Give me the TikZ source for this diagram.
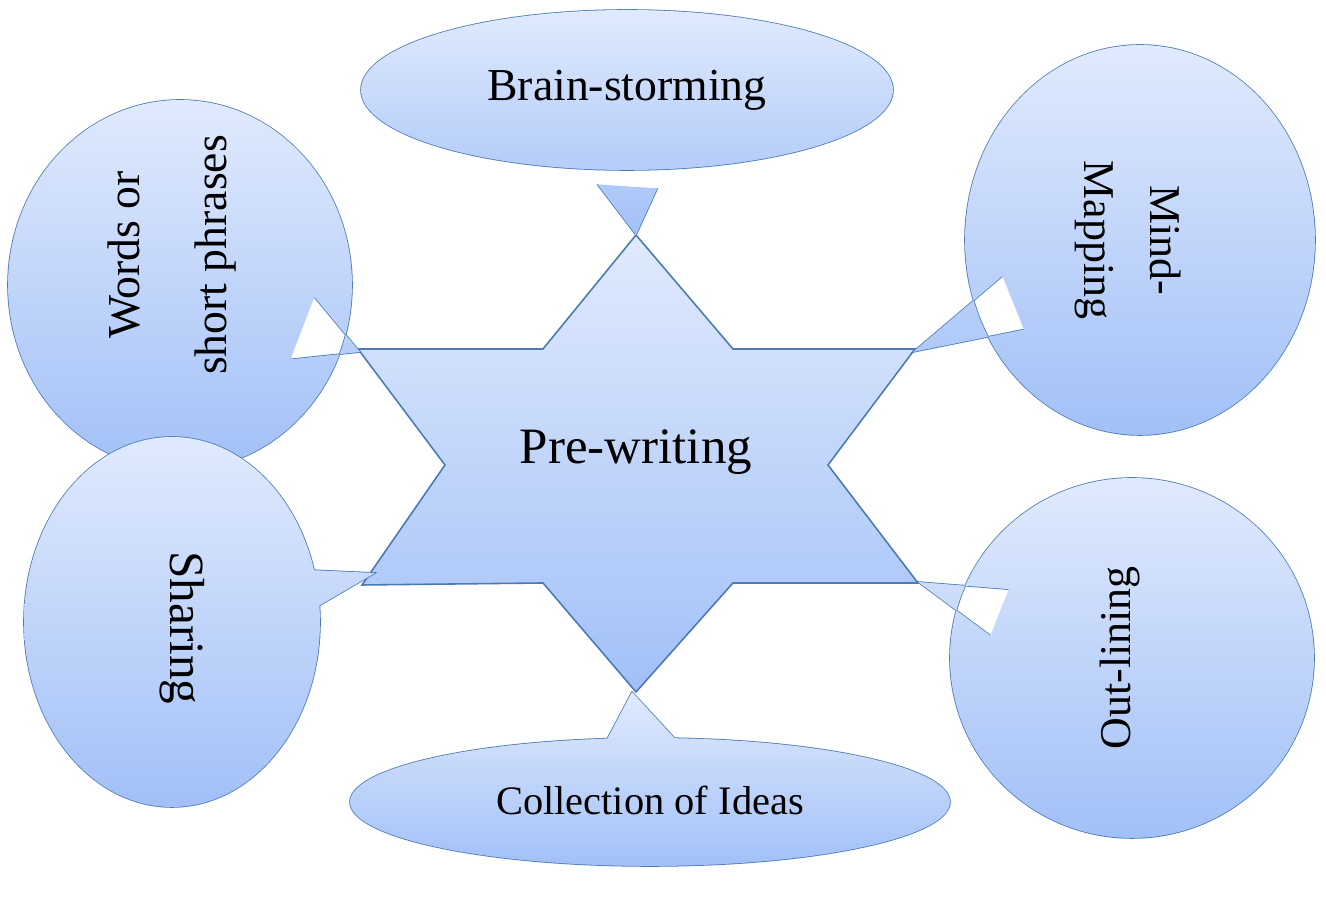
\documentclass[tikz,border=0pt]{standalone}
\usepackage{fontspec}
\setmainfont{Liberation Serif}
\usetikzlibrary{calc}
\definecolor{lt}{HTML}{E0EAFD}
\definecolor{dk}{HTML}{A2C0F7}
\definecolor{ln}{HTML}{4C7AB3}
\tikzset{
  edge/.style={draw=ln,line width=0.45pt},
  shd/.style={top color=lt,bottom color=dk,draw=none},
  lbl/.style={inner sep=0pt,align=center,text=black}
}
\newcommand{\callout}[7]{% cx,cy,rx,ry, A, T, B
  \coordinate (c) at (#1,#2);
  \coordinate (a) at #5; \coordinate (t) at #6; \coordinate (b) at #7;
  \coordinate (a2) at ($(a)!0.2!(c)$); \coordinate (b2) at ($(b)!0.2!(c)$);
  \draw[edge] (c) ellipse [x radius=#3,y radius=#4];
  \draw[edge] (a2) -- (t) -- (b2);
  \shade[shd] (c) ellipse [x radius=#3,y radius=#4] (a2) -- (t) -- (b2) -- cycle;
}
\begin{document}
\begin{tikzpicture}[x=0.01cm,y=-0.01cm]
\useasboundingbox (0,0) rectangle (1326,898);
% star
\shade[top color=lt,bottom color=dk,draw=ln,line width=0.45pt]
 (636,235) -- (733,349) -- (915,349) -- (828,465) -- (918,583) -- (733,583)
 -- (636,692) -- (543,583) -- (362,585) -- (445,465) -- (358,349) -- (543,349) -- cycle;
\node[lbl,font=\fontsize{14.5}{16}\selectfont] (pre) at (636,452) {Pre-writing};
% callouts
\callout{627}{90}{266}{80}{(590,208)}{(636,235)}{(665,213)}
\node[lbl,font=\fontsize{13}{15}\selectfont] (brain) at (627,90) {Brain-storming};
\callout{180}{285}{172}{185}{(318,378)}{(360,352)}{(348,300)}
\node[lbl,rotate=90,font=\fontsize{13}{25}\selectfont] (words) at (172,255) {Words or\\short phrases};
\callout{1140}{240}{175}{195}{(968,285)}{(913,352)}{(995,352)}
\node[lbl,rotate=-90,font=\fontsize{12.5}{19}\selectfont] (mind) at (1128,240) {Mind-\\Mapping};
\callout{172}{622}{148}{185}{(300,555)}{(375,573)}{(316,625)}
\node[lbl,rotate=-90,font=\fontsize{14}{16}\selectfont] (share) at (182,628) {Sharing};
\callout{1132}{658}{182}{180}{(978,572)}{(918,582)}{(955,630)}
\node[lbl,rotate=90,font=\fontsize{12.5}{15}\selectfont] (out) at (1120,658) {Out-lining};
\callout{650}{802}{300}{64}{(585,745)}{(632,692)}{(700,743)}
\node[lbl,font=\fontsize{11.5}{14}\selectfont] (coll) at (650,800) {Collection of Ideas};
\end{tikzpicture}
\end{document}
